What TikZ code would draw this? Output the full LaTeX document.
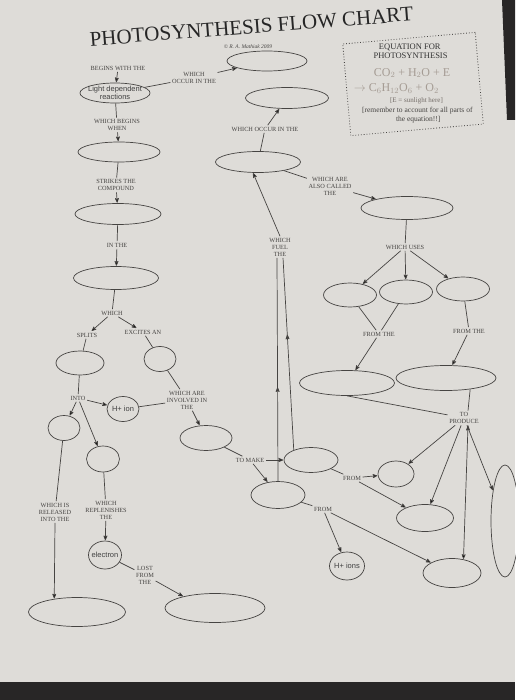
\documentclass[tikz,border=0pt]{standalone}
\usepackage{fontspec}
\setmainfont{Liberation Serif}
\newfontfamily\ovalfont{Liberation Sans}
\usetikzlibrary{positioning,shapes,arrows,decorations.markings,decorations.text}
\definecolor{paper}{RGB}{222,220,216}
\definecolor{ink}{RGB}{70,68,66}
\definecolor{eqgrey}{RGB}{165,156,148}
\definecolor{photoedge}{RGB}{40,38,38}
\begin{document}
\begin{tikzpicture}[x=1pt,y=-1pt,
    midarr/.style={postaction={decorate},decoration={markings,mark=at position #1 with {\arrow{stealth'}}}}]
    \tikzstyle{every node}=[inner sep=0,text=ink]
    \tikzstyle{oval}=[ellipse,draw=ink,line width=0.7pt]
    \tikzstyle{note}=[font=\fontsize{6.3}{7}\selectfont,align=center,inner sep=1.5pt]
    \tikzstyle{ovtext}=[font=\ovalfont\fontsize{7.5}{7.5}\selectfont,align=center,text=black!75]
    \tikzstyle{eqline}=[font=\fontsize{7.5}{7.5}\selectfont]
    \useasboundingbox (0,0) rectangle (515,700);
    \fill[paper] (0,0) rectangle (515,700);
    \fill[photoedge] (0,682) rectangle (515,700);
    \fill[photoedge] (502,0) -- (515,0) -- (515,120) -- (507,120) -- cycle;
    {
        % title block
        \coordinate (titleL) at (86,46.5);
        \coordinate (titleR) at (418,20.5);
        \path[decorate,decoration={text along path,text align=center,
            text={|\fontsize{21}{21}\selectfont\color{black!85}|PHOTOSYNTHESIS FLOW CHART}}] (titleL) -- (titleR);
        \node[font=\itshape\fontsize{5.5}{6}\selectfont] (copy) at (248,47) {\copyright\ R. A. Mathiak 2009};

        \begin{scope}[shift={(413,84)},rotate=5]
            \node[draw=ink,dotted,line width=0.8pt,minimum width=133,minimum height=92,transform shape] (eqbox) at (0,0) {};
            \node[eqline,font=\fontsize{8.5}{9}\selectfont,text=black!80] (eqh1) at (0,-37) {EQUATION FOR};
            \node[eqline,font=\fontsize{8.5}{9}\selectfont,text=black!80] (eqh2) at (0,-28) {PHOTOSYNTHESIS};
            \node[eqline,font=\fontsize{12}{12}\selectfont,text=eqgrey] (eqin) at (0,-11) {CO$_2$ + H$_2$O + E};
            \node[eqline,font=\fontsize{12}{12}\selectfont,text=eqgrey] (eqout) at (-17,3) {$\rightarrow$ C$_6$H$_{12}$O$_6$ + O$_2$};
            \node[eqline,font=\fontsize{7}{7}\selectfont,text=eqgrey!70!black] (eqe) at (2,17) {[E = sunlight here]};
            \node[eqline] (eqr1) at (2,26.5) {[remember to account for all parts of};
            \node[eqline] (eqr2) at (2,36.5) {the equation!!]};
        \end{scope}

        % ovals
        \node[oval,minimum width=70,minimum height=20,label={[ovtext]center:Light dependent\\reactions}] (E1) at (115,93) {};
        \node[oval,minimum width=80,minimum height=20] (E2) at (267,61) {};
        \node[oval,minimum width=82,minimum height=20] (E3) at (119,152) {};
        \node[oval,minimum width=86,minimum height=21] (E4) at (118,214) {};
        \node[oval,minimum width=85,minimum height=23] (E5) at (116,278) {};
        \node[oval,minimum width=48,minimum height=24] (E6) at (80,363) {};
        \node[oval,minimum width=32,minimum height=25] (E7) at (160,359) {};
        \node[oval,minimum width=32,minimum height=25,label={[ovtext]center:H+ ion}] (E8) at (123,409) {};
        \node[oval,minimum width=32,minimum height=25] (E9) at (64,428) {};
        \node[oval,minimum width=33,minimum height=26] (E10) at (103,459) {};
        \node[oval,minimum width=33,minimum height=28,label={[ovtext]center:electron}] (E11) at (105,555) {};
        \node[oval,minimum width=97,minimum height=29] (E12) at (77,612) {};
        \node[oval,minimum width=100,minimum height=29] (E13) at (215,608) {};
        \node[oval,minimum width=52,minimum height=25] (E14) at (206,438) {};
        \node[oval,minimum width=54,minimum height=25] (E15) at (311,460) {};
        \node[oval,minimum width=54,minimum height=27] (E16) at (278,495) {};
        \node[oval,minimum width=83,minimum height=21] (E17) at (287,98) {};
        \node[oval,minimum width=85,minimum height=21] (E18) at (258,162) {};
        \node[oval,minimum width=92,minimum height=23] (E19) at (407,208) {};
        \node[oval,minimum width=53,minimum height=24] (E20) at (350,295) {};
        \node[oval,minimum width=53,minimum height=24] (E21) at (406,292) {};
        \node[oval,minimum width=53,minimum height=24] (E22) at (463,289) {};
        \node[oval,minimum width=95,minimum height=25] (E23) at (347,383) {};
        \node[oval,minimum width=100,minimum height=25] (E24) at (446,378) {};
        \node[oval,minimum width=36,minimum height=26] (E25) at (396,474) {};
        \node[oval,minimum width=57,minimum height=27] (E26) at (425,518) {};
        \node[oval,minimum width=58,minimum height=29] (E27) at (452,573) {};
        \node[oval,minimum width=28,minimum height=112] (E28) at (505,521) {};
        \node[oval,minimum width=35,minimum height=28,label={[ovtext]center:H+ ions}] (E29) at (347,566) {};

        % linking words
        \node[note] (L1) at (118,68) {BEGINS WITH THE};
        \node[note] (L2) at (194,78) {WHICH\\OCCUR IN THE};
        \node[note] (L3) at (117,125) {WHICH BEGINS\\WHEN};
        \node[note] (L4) at (116,185) {STRIKES THE\\COMPOUND};
        \node[note] (L5) at (117,245) {IN THE};
        \node[note] (L6) at (112,313) {WHICH};
        \node[note] (L7) at (87,335) {SPLITS};
        \node[note] (L8) at (143,332) {EXCITES AN};
        \node[note] (L9) at (78,398) {INTO};
        \node[note] (L10) at (187,400) {WHICH ARE\\INVOLVED IN\\THE};
        \node[note] (L11) at (250,460) {TO MAKE};
        \node[note] (L12) at (55,512) {WHICH IS\\RELEASED\\INTO THE};
        \node[note] (L13) at (106,510) {WHICH\\REPLENISHES\\THE};
        \node[note] (L14) at (145,575) {LOST\\FROM\\THE};
        \node[note] (L15) at (265,129) {WHICH OCCUR IN THE};
        \node[note] (L16) at (280,247) {WHICH\\FUEL\\THE};
        \node[note] (L17) at (330,186) {WHICH ARE\\ALSO CALLED\\THE};
        \node[note] (L18) at (405,247) {WHICH USES};
        \node[note] (L19) at (379,334) {FROM THE};
        \node[note] (L20) at (469,331) {FROM THE};
        \node[note] (L21) at (464,418) {TO\\PRODUCE};
        \node[note] (L22) at (352,478) {FROM};
        \node[note] (L23) at (323,509) {FROM};

        \path[draw=ink,line width=0.7pt]
            (E1) edge (L2)
            (E1) edge (L3)
            (E3) edge (L4)
            (E4) edge (L5)
            (E5) edge (L6)
            (L7) edge (E6)
            (L8) edge (E7)
            (E6) edge (L9)
            (E8) edge (L10)
            (E7) edge (L10)
            (E14) edge (L11)
            (E9) edge (L12)
            (E10) edge (L13)
            (E11) edge (L14)
            (E18) edge (L15)
            (E18) edge (L17)
            (E19) edge (L18)
            (E20) edge (L19)
            (E21) edge (L19)
            (E22) edge (L20)
            (E23.south) edge (L21)
            (E24.-25) edge ([xshift=4]L21.north)
            (E15) edge (L22)
            (E16) edge (L23);

        \path[->,>=stealth',draw=ink,line width=0.7pt,shorten >=0.5pt]
            (L1) edge (E1)
            (L2) edge (E2)
            (L3) edge (E3)
            (L4) edge (E4)
            (L5) edge (E5)
            (L6) edge (L7)
            (L6) edge (L8)
            (L9) edge (E8)
            (L9) edge (E9)
            (L9) edge (E10)
            (L10) edge (E14)
            (L11) edge (E15)
            (L11) edge (E16)
            (L12.south) edge (E12.150)
            (L13) edge (E11)
            (L14) edge (E13.160)
            (L16.north) edge (E18.-115)
            (L15) edge (E17)
            (L17) edge (E19)
            (L18) edge (E20)
            (L18) edge (E21)
            (L18) edge (E22)
            (L19) edge (E23)
            (L20) edge (E24)
            (L21) edge (E25)
            (L21) edge (E26)
            ([xshift=4]L21.south) edge (E27.50)
            (L21) edge (E28)
            (L22) edge (E25)
            (L22) edge (E26)
            (L23) edge (E29)
            (L23) edge (E27);

        \draw[ink,line width=0.7pt,midarr=0.42] (E16.north) -- ([xshift=-3]L16.south);
        \draw[ink,line width=0.7pt,midarr=0.6] (E15.150) -- ([xshift=3]L16.south);
    }
\end{tikzpicture}
\end{document}
